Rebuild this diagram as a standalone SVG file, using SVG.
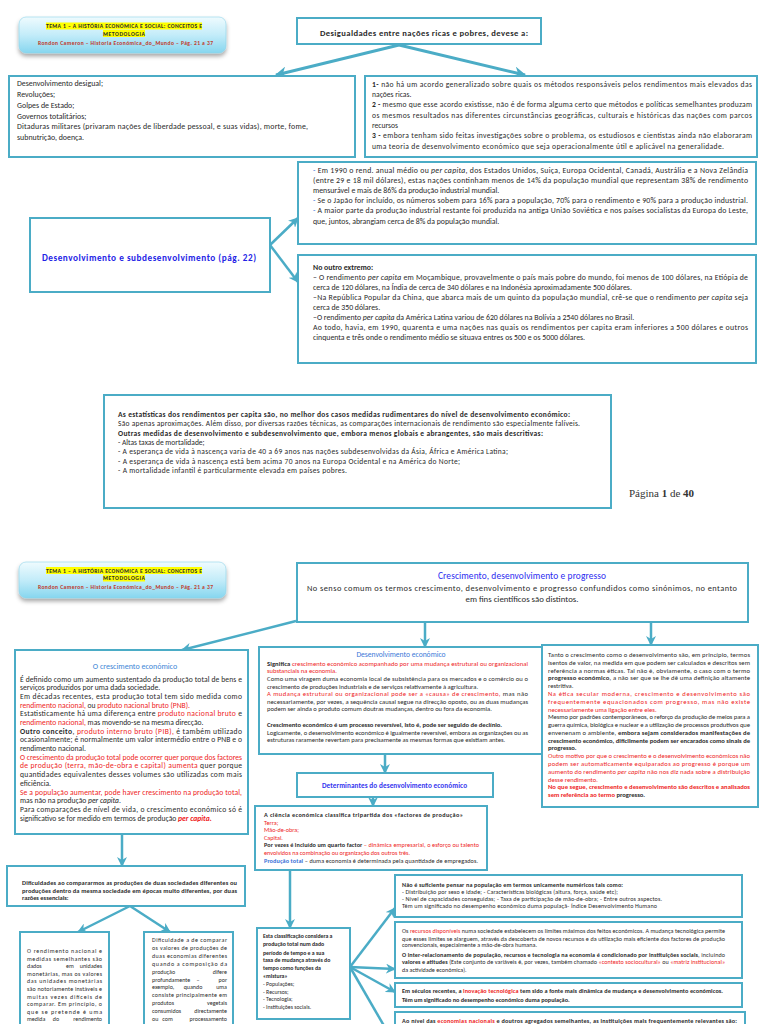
<svg xmlns="http://www.w3.org/2000/svg" width="768" height="1024" viewBox="0 0 768 1024">
<style>
text{font-family:Carlito,Lato,"Liberation Sans",sans-serif;fill:#2a2a2a}
.b{font-weight:700}.i{font-style:italic}.r{fill:#ee1c1c}.u{fill:#3a6fd8}
.box{fill:#fff;stroke:#4bacc6;stroke-width:2}
.cn{stroke:#4bacc6;stroke-width:2.5;fill:none;marker-end:url(#ah)}
.hd{font-size:5.6px;font-weight:700}
</style>
<defs>
<marker id="ah" viewBox="0 0 10 10" refX="9" refY="5" markerWidth="4" markerHeight="4" orient="auto" markerUnits="strokeWidth"><path d="M0,0 L10,5 L0,10 L3,5 z" fill="#4bacc6"/></marker>
<linearGradient id="hg" x1="0" y1="0" x2="0" y2="1"><stop offset="0" stop-color="#effbfe"/><stop offset="0.5" stop-color="#c3ecf9"/><stop offset="1" stop-color="#86d6ef"/></linearGradient>
<filter id="sh" x="-10%" y="-20%" width="120%" height="170%"><feDropShadow dx="0" dy="3" stdDeviation="2" flood-color="#000" flood-opacity="0.35"/></filter>
</defs>
<rect width="768" height="1024" fill="#fff"/>

<g id="connectors">
<path class="cn" style="stroke-width:3" d="M399,45 L276,75"/>
<path class="cn" style="stroke-width:3" d="M399,45 L525,75"/>
<path class="cn" d="M270,245 L298,218"/>
<path class="cn" d="M270,245 L298,282"/>
<path class="cn" d="M296,621 L182,650"/>
<path class="cn" d="M425,622 L425,647"/>
<path class="cn" d="M651,622 L651,645"/>
<path class="cn" d="M122,834 L122,866"/>
<path class="cn" d="M385,754 L385,773"/>
<path class="cn" d="M373,797 L373,806"/>
<path class="cn" d="M290,870 L290,928"/>
<path class="cn" d="M130,906 L78,932"/>
<path class="cn" d="M130,906 L170,932"/>
<path class="cn" d="M350,967 L395,908"/>
<path class="cn" d="M350,967 L395,969"/>
<path class="cn" d="M350,967 L395,992"/>
<path class="cn" d="M350,967 L398,1050"/>
</g>

<g id="header1">
<rect x="19" y="17" width="207" height="36" rx="7" fill="url(#hg)" stroke="#8fd3ea" stroke-width="0.6" filter="url(#sh)"/>
<rect x="46" y="22.5" width="156" height="7" fill="#ffff00"/>
<rect x="103" y="30" width="42" height="7" fill="#ffff00"/>
<text class="hd" x="46" y="28" textLength="156">TEMA 1 – A HISTÓRIA ECONÓMICA E SOCIAL: CONCEITOS E</text>
<text class="hd" x="103" y="35.5" textLength="42">METODOLOGIA</text>
<text class="hd" x="38" y="44.5" textLength="175" style="fill:#c0392b">Rondon Cameron – Historia Económica_do_Mundo – Pág. 21 a 37</text>
</g>

<g id="desigualdades">
<rect class="box" x="297" y="18" width="244" height="26"/>
<text class="b" x="320" y="35.5" font-size="8.6" textLength="208">Desigualdades entre nações ricas e pobres, devese a:</text>
</g>

<g id="causas" font-size="7.9">
<rect class="box" x="9" y="76" width="346" height="81"/>
<text x="17" y="85.8">Desenvolvimento desigual;</text>
<text x="17" y="96.8">Revoluções;</text>
<text x="17" y="107.5">Golpes de Estado;</text>
<text x="17" y="118.5">Governos totalitários;</text>
<text x="17" y="129.2" textLength="291">Ditaduras militares  (privaram nações de liberdade pessoal, e suas vidas), morte, fome,</text>
<text x="17" y="139.8">subnutrição, doença.</text>
</g>

<g id="razoes" font-size="7.6">
<rect class="box" x="365" y="76" width="392" height="81"/>
<text x="372" y="86.8" textLength="380"><tspan class="b">1-</tspan> não há um acordo generalizado sobre quais os métodos responsáveis pelos rendimentos mais elevados das</text>
<text x="372" y="97.1">nações ricas.</text>
<text x="372" y="107.4" textLength="380"><tspan class="b">2 -</tspan> mesmo que esse acordo existisse, não é de forma alguma certo que métodos e políticas semelhantes produzam</text>
<text x="372" y="117.7" textLength="380">os mesmos resultados nas diferentes circunstâncias geográficas, culturais e históricas das nações com parcos</text>
<text x="372" y="128">recursos</text>
<text x="372" y="138.3" textLength="380"><tspan class="b">3 -</tspan> embora tenham sido feitas investigações sobre o problema, os estudiosos e cientistas ainda não elaboraram</text>
<text x="372" y="148.6" textLength="352">uma teoria de desenvolvimento económico que seja operacionalmente útil e aplicável na generalidade.</text>
</g>

<g id="subdesenvolvimento">
<rect class="box" x="30" y="218" width="240" height="74"/>
<text class="b" x="42" y="261" font-size="9.2" textLength="214" style="fill:#2323e6">Desenvolvimento e subdesenvolvimento (pág. 22)</text>
</g>

<g id="ricos" font-size="7.8">
<rect class="box" x="298" y="162" width="458" height="82"/>
<text x="313" y="173" textLength="435"><tspan class="u">-</tspan> Em 1990 o rend. anual médio ou <tspan class="i">per capita</tspan>, dos Estados Unidos, Suiça, Europa Ocidental, Canadá, Austrália e a Nova Zelândia</text>
<text x="313" y="183.1" textLength="435">(entre 29 e 18 mil dólares), estas nações continham menos de 14% da população mundial que representam 38% de rendimento</text>
<text x="313" y="193.2">mensurável e mais de 86% da produção industrial mundial.</text>
<text x="313" y="203.3" textLength="435"><tspan class="u">-</tspan> Se o Japão for incluído, os números sobem para 16% para a população, 70% para o rendimento e 90% para a produção industrial.</text>
<text x="313" y="213.4" textLength="435"><tspan class="u">-</tspan> A maior parte da produção industrial restante foi produzida na antiga União Soviética e nos países socialistas da Europa do Leste,</text>
<text x="313" y="223.5">que, juntos, abrangiam cerca de 8% da população mundial.</text>
</g>

<g id="pobres" font-size="7.8">
<rect class="box" x="298" y="255" width="458" height="108"/>
<text class="b" x="313" y="270">No outro extremo:</text>
<text x="313" y="280" textLength="435">– O rendimento <tspan class="i">per capita</tspan> em Moçambique, provavelmente o país mais pobre do mundo, foi menos de 100 dólares, na Etiópia de</text>
<text x="313" y="290">cerca de 120 dólares, na Índia de cerca de 340 dólares e na Indonésia aproximadamente 500 dólares.</text>
<text x="313" y="300" textLength="435">–Na República Popular da China, que abarca mais de um quinto da população mundial, crê-se que o rendimento <tspan class="i">per capita</tspan> seja</text>
<text x="313" y="310">cerca de 350 dólares.</text>
<text x="313" y="320">–O rendimento <tspan class="i">per capita</tspan> da América Latina variou de 620 dólares na Bolívia a 2540 dólares no Brasil.</text>
<text x="313" y="330" textLength="435">Ao todo, havia, em 1990, quarenta e uma nações nas quais os rendimentos per capita eram inferiores a 500 dólares e outros</text>
<text x="313" y="340">cinquenta e três onde o rendimento médio se situava entres os 500 e os 5000 dólares.</text>
</g>

<g id="estatisticas" font-size="7.5">
<rect class="box" x="104" y="395" width="507" height="113"/>
<text class="b" x="118" y="417" textLength="452">As estatísticas dos rendimentos per capita são, no melhor dos casos medidas rudimentares do nível de desenvolvimento económico:</text>
<text x="118" y="426.3" textLength="462">São apenas aproximações. Além disso, por diversas razões técnicas, as comparações internacionais de rendimento são especialmente falíveis.</text>
<text class="b" x="118" y="435.6" textLength="425">Outras medidas de desenvolvimento e subdesenvolvimento que, embora menos globais e abrangentes, são mais descritivas:</text>
<text x="118" y="444.9">- Altas taxas de mortalidade;</text>
<text x="118" y="454.2" textLength="390">- A esperança de vida à nascença varia de 40 a 69 anos nas nações subdesenvolvidas da Ásia, África e América Latina;</text>
<text x="118" y="463.5" textLength="342">- A esperança de vida à nascença está bem acima 70 anos na Europa Ocidental e na América do Norte;</text>
<text x="118" y="472.8" textLength="229">- A mortalidade infantil é particularmente elevada em países pobres.</text>
</g>

<text x="629" y="497" font-size="11" style="font-family:'Liberation Serif',serif;fill:#333">Página <tspan class="b">1</tspan> de <tspan class="b">40</tspan></text>

<g id="header2">
<rect x="19" y="562" width="207" height="36" rx="7" fill="url(#hg)" stroke="#8fd3ea" stroke-width="0.6" filter="url(#sh)"/>
<rect x="46" y="567" width="156" height="7" fill="#ffff00"/>
<rect x="103" y="574.5" width="42" height="7" fill="#ffff00"/>
<text class="hd" x="46" y="572.5" textLength="156">TEMA 1 – A HISTÓRIA ECONÓMICA E SOCIAL: CONCEITOS E</text>
<text class="hd" x="103" y="580" textLength="42">METODOLOGIA</text>
<text class="hd" x="38" y="589" textLength="175" style="fill:#c0392b">Rondon Cameron – Historia Económica_do_Mundo – Pág. 21 a 37</text>
</g>

<g id="crescimento_progresso">
<rect class="box" x="297" y="563" width="451" height="59"/>
<text x="438" y="578.5" font-size="9.4" textLength="168" style="fill:#2b2bf0">Crescimento, desenvolvimento e progresso</text>
<text x="307" y="590.5" font-size="8.4" textLength="430">No senso comum os termos crescimento, desenvolvimento e progresso confundidos como sinónimos, no entanto</text>
<text x="522" y="602" font-size="8.8" text-anchor="middle">em fins científicos são distintos.</text>
</g>

<g id="crescimento_economico" font-size="7.6">
<rect class="box" x="15" y="650" width="233" height="184"/>
<text x="135" y="669" font-size="8" text-anchor="middle" style="fill:#3d86d6">O crescimento económico</text>
<text x="20" y="681.5" textLength="222">É definido como um aumento sustentado da produção total de bens e</text>
<text x="20" y="690.2">serviços produzidos por uma dada sociedade.</text>
<text x="20" y="698.9" textLength="222">Em décadas recentes, esta produção total tem sido medida como</text>
<text x="20" y="707.6"><tspan class="r">rendimento nacional,</tspan> ou <tspan class="r">produto nacional bruto (PNB).</tspan></text>
<text x="20" y="716.3" textLength="222">Estatisticamente há uma diferença entre <tspan class="r">produto nacional bruto</tspan> e</text>
<text x="20" y="724.9"><tspan class="r">rendimento nacional,</tspan> mas movendo-se na mesma direcção.</text>
<text x="20" y="733.6" textLength="222"><tspan class="b">Outro conceito</tspan>, <tspan class="r">produto interno bruto (PIB),</tspan> é também utilizado</text>
<text x="20" y="742.3" textLength="222">ocasionalmente; é normalmente um valor intermédio entre o PNB e o</text>
<text x="20" y="751">rendimento nacional.</text>
<text x="20" y="759.7" textLength="222" class="r">O crescimento da produção total pode ocorrer quer porque dos factores</text>
<text x="20" y="768.4" textLength="222"><tspan class="r">de produção (terra, mão-de-obra e capital) aumenta</tspan> quer porque</text>
<text x="20" y="777.1" textLength="222">quantidades equivalentes desses volumes são utilizadas com mais</text>
<text x="20" y="785.8">eficiência.</text>
<text x="20" y="794.5" textLength="222" class="r">Se a população aumentar, pode haver crescimento na produção total,</text>
<text x="20" y="803.2">mas não na produção <tspan class="i">per capita</tspan>.</text>
<text x="20" y="811.9" textLength="222">Para comparações de nível de vida, o crescimento económico só é</text>
<text x="20" y="820.5">significativo se for medido em termos de produção <tspan class="b i r">per capita.</tspan></text>
</g>

<g id="desenvolvimento_economico" font-size="6.6">
<rect class="box" x="259" y="647" width="284" height="107"/>
<text x="401" y="657" font-size="7.6" text-anchor="middle" style="fill:#3b78d8">Desenvolvimento económico</text>
<text x="267" y="665.5" textLength="261"><tspan class="b">Significa</tspan> <tspan class="r">crescimento económico acompanhado por uma mudança estrutural ou organizacional</tspan></text>
<text x="267" y="672.5" class="r">substanciais na economia.</text>
<text x="267" y="681" textLength="261">Como uma viragem duma economia local de subsistência para os mercados e o comércio ou o</text>
<text x="267" y="688.5">crescimento de produções industriais e de serviços relativamente à agricultura.</text>
<text x="267" y="696" textLength="261"><tspan class="r">A mudança estrutural ou organizacional pode ser a «causa» de crescimento,</tspan> mas não</text>
<text x="267" y="703.5" textLength="261">necessariamente, por vezes, a sequência causal segue na direcção oposto, ou as duas mudanças</text>
<text x="267" y="711">podem ser ainda o produto comum doutras mudanças, dentro ou fora da economia.</text>
<text x="267" y="727" class="b">Crescimento económico é um processo reversível, isto é, pode ser seguido de declínio.</text>
<text x="267" y="734.5" textLength="261">Logicamente, o desenvolvimento económico é igualmente reversível, embora as organizações ou as</text>
<text x="267" y="742">estruturas raramente revertam para precisamente as mesmas formas que existiam antes.</text>
</g>

<g id="determinantes">
<rect class="box" x="297" y="773" width="196" height="24"/>
<text class="b" x="322" y="787.5" font-size="7.2" textLength="145" style="fill:#3333ee">Determinantes do desenvolvimento económico</text>
</g>

<g id="factores" font-size="6.2">
<rect class="box" x="255" y="806" width="232" height="64"/>
<text x="264" y="817" class="b" textLength="199">A ciência económica classifica tripartida dos «factores de produção»</text>
<text x="264" y="824.6" class="r">Terra;</text>
<text x="264" y="832.2" class="r">Mão-de-obra;</text>
<text x="264" y="839.8" class="r">Capital.</text>
<text x="264" y="847.4" textLength="215"><tspan class="b">Por vezes é incluído um quarto factor</tspan><tspan class="r"> – dinâmica empresarial, o esforço ou talento</tspan></text>
<text x="264" y="855" class="r">envolvidos na combinação ou organização dos outros três.</text>
<text x="264" y="862.6" textLength="214"><tspan class="b u">Produção total</tspan> – duma economia é determinada pela quantidade de empregados.</text>
</g>

<g id="progresso" font-size="6.6">
<rect class="box" x="542" y="645" width="216" height="162"/>
<text x="548" y="657" textLength="202">Tanto o crescimento como o desenvolvimento são, em princípio, termos</text>
<text x="548" y="664.8" textLength="202">isentos de valor, na medida em que podem ser calculados e descritos sem</text>
<text x="548" y="672.6" textLength="202">referência a normas éticas. Tal não é, obviamente, o caso com o termo</text>
<text x="548" y="680.3" textLength="202"><tspan class="b">progresso económico</tspan>, a não ser que se lhe dê uma definição altamente</text>
<text x="548" y="688.1">restritiva.</text>
<text x="548" y="695.9" textLength="202" class="r">Na ética secular moderna, crescimento e desenvolvimento são</text>
<text x="548" y="703.7" textLength="202" class="r">frequentemente equacionados com progresso, mas não existe</text>
<text x="548" y="711.5" class="r">necessariamente uma ligação entre eles.</text>
<text x="548" y="719.2" textLength="202">Mesmo por padrões contemporâneos, o reforço da produção de meios para a</text>
<text x="548" y="727" textLength="202">guerra química, biológica e nuclear e a utilização de processos produtivos que</text>
<text x="548" y="734.8" textLength="202">envenenam o ambiente, <tspan class="b">embora sejam considerados manifestações de</tspan></text>
<text x="548" y="742.6" textLength="202" class="b">crescimento económico, dificilmente podem ser encarados como sinais de</text>
<text x="548" y="750.4" class="b">progresso.</text>
<text x="548" y="758.1" textLength="202" class="r">Outro motivo por que o crescimento e o desenvolvimento económicos não</text>
<text x="548" y="765.9" textLength="202" class="r">podem ser automaticamente equiparados ao progresso é porque um</text>
<text x="548" y="773.7" textLength="202" class="r">aumento do rendimento <tspan class="i">per capita</tspan> não nos diz nada sobre a distribuição</text>
<text x="548" y="781.5" class="r">desse rendimento.</text>
<text x="548" y="789.2" textLength="202" class="b r">No que segue, crescimento e desenvolvimento são descritos e analisados</text>
<text x="548" y="797" class="b"><tspan class="r">sem referência ao termo</tspan> progresso.</text>
</g>

<g id="dificuldades" font-size="6.4">
<rect class="box" x="7" y="866" width="238" height="40"/>
<text x="22" y="885" class="b" textLength="215">Dificuldades ao compararmos as produções de duas sociedades diferentes ou</text>
<text x="22" y="892.5" class="b" textLength="215">produções dentro da mesma sociedade em épocas muito diferentes, por duas</text>
<text x="22" y="900" class="b">razões essenciais:</text>
</g>

<g id="rendimento_nacional" font-size="6">
<rect class="box" x="20" y="932" width="89" height="100"/>
<text x="27" y="953" textLength="75">O rendimento nacional e</text>
<text x="27" y="960.6" textLength="75">medidas semelhantes são</text>
<text x="27" y="968.2">dados</text><text x="70" y="968.2" text-anchor="middle">em</text><text x="102" y="968.2" text-anchor="end">unidades</text>
<text x="27" y="975.8" textLength="75">monetárias, mas os valores</text>
<text x="27" y="983.4" textLength="75">das unidades monetárias</text>
<text x="27" y="991" textLength="75">são notoriamente instáveis e</text>
<text x="27" y="998.6" textLength="75">muitas vezes difíceis de</text>
<text x="27" y="1006.2" textLength="75">comparar. Em princípio, o</text>
<text x="27" y="1013.8" textLength="75">que se pretende é uma</text>
<text x="27" y="1021.4">medida</text><text x="56" y="1021.4" text-anchor="middle">do</text><text x="102" y="1021.4" text-anchor="end">rendimento</text>
</g>

<g id="composicao" font-size="6">
<rect class="box" x="144" y="932" width="89" height="100"/>
<text x="152" y="942" textLength="75">Dificuldade  a de comparar</text>
<text x="152" y="949.9" textLength="75">os valores de produções de</text>
<text x="152" y="957.8" textLength="75">duas economias diferentes</text>
<text x="152" y="965.7" textLength="75">quando a composição da</text>
<text x="152" y="973.6">produção</text><text x="227" y="973.6" text-anchor="end">difere</text>
<text x="152" y="981.5">profundamente</text><text x="198" y="981.5" text-anchor="middle">–</text><text x="227" y="981.5" text-anchor="end">por</text>
<text x="152" y="989.4">exemplo,</text><text x="193" y="989.4" text-anchor="middle">quando</text><text x="227" y="989.4" text-anchor="end">uma</text>
<text x="152" y="997.3" textLength="75">consiste principalmente em</text>
<text x="152" y="1005.2">produtos</text><text x="227" y="1005.2" text-anchor="end">vegetais</text>
<text x="152" y="1013.1">consumidos</text><text x="227" y="1013.1" text-anchor="end">directamente</text>
<text x="152" y="1021">ou</text><text x="167.5" y="1021" text-anchor="middle">com</text><text x="227" y="1021" text-anchor="end">processamento</text>
</g>

<g id="classificacao" font-size="5.8">
<rect class="box" x="257" y="928" width="93" height="91"/>
<text x="263" y="938.3" class="b">Esta classificação considera a</text>
<text x="263" y="946.3" class="b">produção total num dado</text>
<text x="263" y="954.5" class="b">período de tempo e a sua</text>
<text x="263" y="962.2" class="b">taxa de mudança através do</text>
<text x="263" y="970" class="b">tempo como funções da</text>
<text x="263" y="978" class="b">«mistura»</text>
<text x="263" y="986.2">- Populações;</text>
<text x="263" y="993.8">- Recursos;</text>
<text x="263" y="1001.4">- Tecnologia;</text>
<text x="263" y="1009">- Instituições sociais.</text>
</g>

<g id="populacao" font-size="6.1">
<rect class="box" x="395" y="875" width="347" height="42"/>
<text x="402" y="886.5" class="b" textLength="221">Não é suficiente pensar na população em termos unicamente numéricos tais como:</text>
<text x="402" y="893.5" textLength="216">- Distribuição por sexo e idade; - Características biológicas (altura, força, saúde etc);</text>
<text x="402" y="900.5" textLength="260">- Nível de capacidades conseguidas; - Taxa de participação de mão-de-obra; - Entre outros aspectos.</text>
<text x="402" y="908" textLength="255">Têm um significado no desempenho económico duma populaçã- Índice Desenvolvimento Humano</text>
</g>

<g id="recursos" font-size="6.1">
<rect class="box" x="395" y="922" width="347" height="56"/>
<text x="402" y="933" textLength="323">Os <tspan class="r">recursos disponíveis</tspan> numa sociedade estabelecem os limites máximos dos feitos económicos. A mudança tecnológica permite</text>
<text x="402" y="940.5" textLength="323">que esses limites se alarguem, através da descoberta de novos recursos e da utilização mais eficiente dos factores de produção</text>
<text x="402" y="947">convencionais, especialmente a mão-de-obra humana.</text>
<text x="402" y="956.5" textLength="323"><tspan class="b">O inter-relacionamento de população, recursos e tecnologia na economia é condicionado por instituições sociais</tspan>, incluindo</text>
<text x="402" y="964" textLength="323"><tspan class="b">valores e atitudes</tspan> (Este conjunto de variáveis é, por vezes, também chamado <tspan class="r">«contexto sociocultural»</tspan> ou <tspan class="r">«matriz institucional»</tspan></text>
<text x="402" y="971.5">da actividade económica).</text>
</g>

<g id="tecnologia" font-size="6.2">
<rect class="box" x="395" y="983" width="347" height="24"/>
<text x="402" y="993" class="b" textLength="321">Em séculos recentes, a <tspan class="r">inovação tecnológica</tspan> tem sido a fonte mais dinâmica de mudança e desenvolvimento económicos.</text>
<text x="402" y="1001.5" class="b">Têm um significado no desempenho económico duma população.</text>
</g>

<g id="instituicoes" font-size="6.2">
<rect class="box" x="395" y="1012" width="350" height="30"/>
<text x="402" y="1023" class="b" textLength="335">Ao nível das <tspan class="r">economias nacionais</tspan> e doutros agregados semelhantes, as instituições mais frequentemente relevantes são:</text>
</g>
</svg>
